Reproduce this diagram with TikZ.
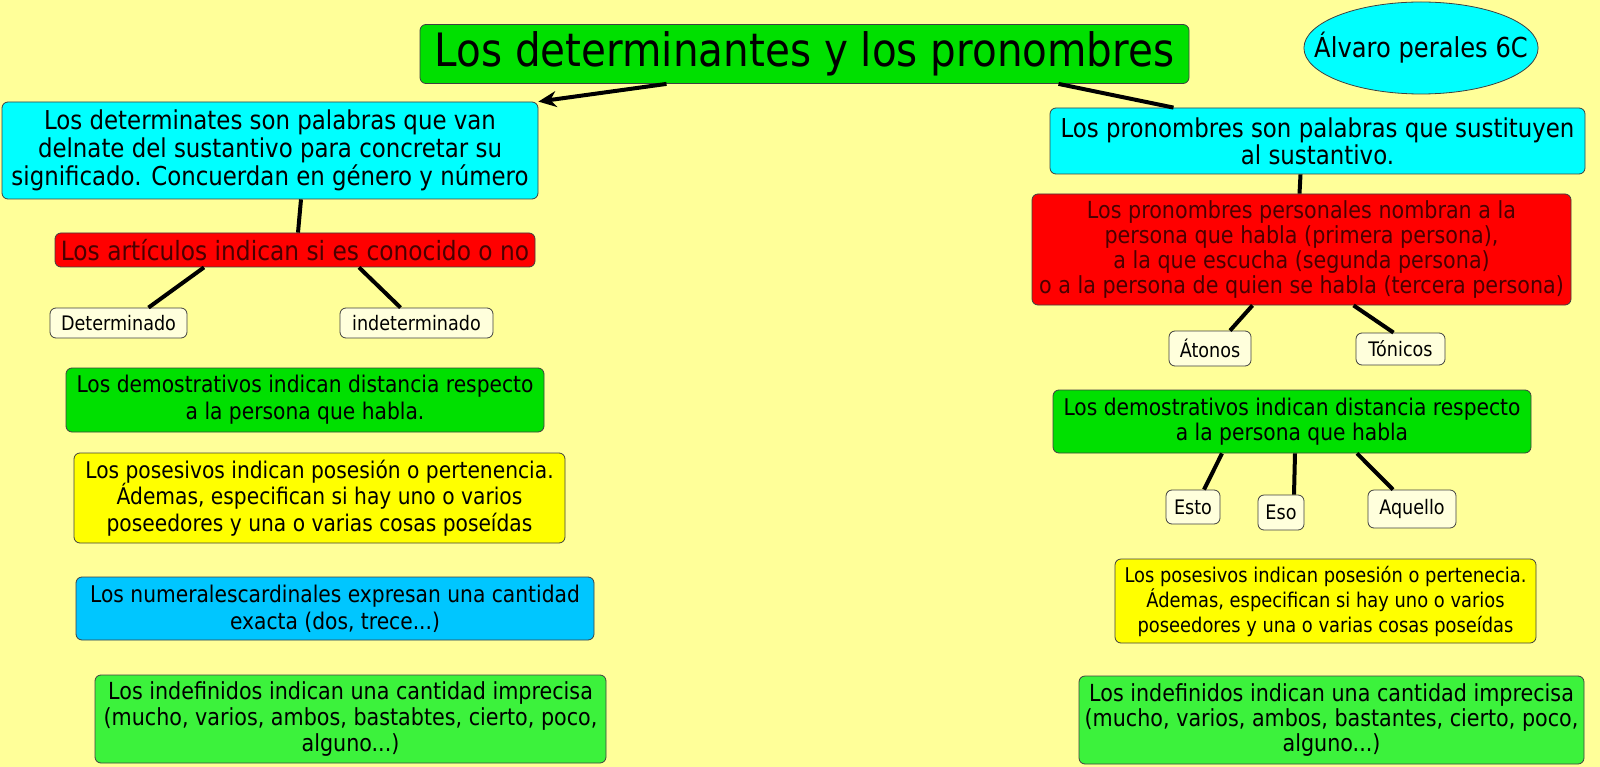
\documentclass[tikz,border=0pt]{standalone}
\usepackage{fontspec}
\setmainfont{DejaVu Sans}[FakeStretch=0.88]
\usetikzlibrary{arrows.meta,shapes.geometric}
\definecolor{fondo}{HTML}{FFFF99}
\definecolor{verde}{HTML}{00E000}
\definecolor{verdeclaro}{HTML}{3CF23C}
\definecolor{cian}{HTML}{00FFFF}
\definecolor{azul}{HTML}{00C6FF}
\definecolor{rojo}{HTML}{FF0000}
\definecolor{rojotexto}{HTML}{4A0000}
\definecolor{amarillo}{HTML}{FFFF00}
\definecolor{crema}{HTML}{FFFFDC}
\newcommand\tam[2]{\fontsize{#1}{#2}\selectfont}

\begin{document}
\begin{tikzpicture}[x=1pt,y=-1pt]
       \tikzstyle{caja}=[draw=black!75, line width=0.8pt, rounded corners=6pt, align=center, inner sep=0pt]
       \tikzstyle{hoja}=[caja, fill=crema, font=\tam{20}{24}]
       \tikzstyle{enlace}=[line width=4pt]
       \useasboundingbox (0,0) rectangle (1600,767);
       \fill[fondo] (0,0) rectangle (1600,767);
       \node[caja, fill=verde, minimum width=769pt, minimum height=59pt, font=\tam{46}{50}] (titulo) at (804.5,54) {Los determinantes y los pronombres};
       \node[ellipse, draw=black!75, line width=0.8pt, fill=cian, inner xsep=-24pt, inner ysep=0pt, minimum height=92pt, font=\tam{27.5}{30}] (autor) at (1421,48) {Álvaro perales 6C};
       \node[caja, fill=cian, minimum width=536pt, minimum height=97pt, font=\tam{26}{28}] (det) at (270,150.5) {Los determinates son palabras que van\\ delnate del sustantivo para concretar su\\ significado. Concuerdan en género y número};
       \node[caja, fill=rojo, text=rojotexto, minimum width=480pt, minimum height=34pt, font=\tam{26.5}{28}] (articulos) at (295,250) {Los artículos indican si es conocido o no};
       \node[hoja, minimum width=137pt, minimum height=30pt] (determinado) at (118.5,323) {Determinado};
       \node[hoja, minimum width=153pt, minimum height=30pt] (indeterminado) at (416.5,323) {indeterminado};
       \node[caja, fill=verde, minimum width=478pt, minimum height=64pt, font=\tam{23}{27}] (demizq) at (305,400) {Los demostrativos indican distancia respecto\\ a la persona que habla.};
       \node[caja, fill=amarillo, minimum width=491pt, minimum height=90pt, font=\tam{23}{26.5}] (posizq) at (319.5,498) {Los posesivos indican posesión o pertenencia.\\ Ádemas, especifican si hay uno o varios\\ poseedores y una o varias cosas poseídas};
       \node[caja, fill=azul, minimum width=518pt, minimum height=63pt, font=\tam{23}{27}] (numerales) at (335,608.5) {Los numeralescardinales expresan una cantidad\\ exacta (dos, trece...)};
       \node[caja, fill=verdeclaro, minimum width=511pt, minimum height=88pt, font=\tam{23.5}{26}] (indefizq) at (350.5,719) {Los indefinidos indican una cantidad imprecisa\\ (mucho, varios, ambos, bastabtes, cierto, poco,\\ alguno...)};
       \node[caja, fill=cian, minimum width=535pt, minimum height=66pt, font=\tam{26}{27}] (pron) at (1317.5,141) {Los pronombres son palabras que sustituyen\\ al sustantivo.};
       \node[caja, fill=rojo, text=rojotexto, minimum width=539pt, minimum height=111pt, font=\tam{23.5}{25}] (personales) at (1301.5,249.5) {Los pronombres personales nombran a la\\ persona que habla (primera persona),\\ a la que escucha (segunda persona)\\ o a la persona de quien se habla (tercera persona)};
       \node[hoja, minimum width=82pt, minimum height=35pt] (atonos) at (1210,348.5) {Átonos};
       \node[hoja, minimum width=89pt, minimum height=32pt] (tonicos) at (1400.5,349) {Tónicos};
       \node[caja, fill=verde, minimum width=478pt, minimum height=63pt, font=\tam{23}{25}] (demder) at (1292,421.5) {Los demostrativos indican distancia respecto\\ a la persona que habla};
       \node[hoja, minimum width=54pt, minimum height=34pt] (esto) at (1193,507) {Esto};
       \node[hoja, minimum width=46pt, minimum height=35pt] (eso) at (1281,512.5) {Eso};
       \node[hoja, minimum width=88pt, minimum height=38pt] (aquello) at (1412,509) {Aquello};
       \node[caja, fill=amarillo, minimum width=421pt, minimum height=84pt, font=\tam{20.3}{25}] (posder) at (1325.5,601) {Los posesivos indican posesión o pertenecia.\\ Ádemas, especifican si hay uno o varios\\ poseedores y una o varias cosas poseídas};
       \node[caja, fill=verdeclaro, minimum width=505pt, minimum height=88pt, font=\tam{23.5}{25}] (indefder) at (1331.5,720) {Los indefinidos indican una cantidad imprecisa\\ (mucho, varios, ambos, bastantes, cierto, poco,\\ alguno...)};
       \draw[enlace, -{Stealth[length=18pt,width=16pt]}] ([xshift=-138pt]titulo.south) -- (det.north east);
       \draw[enlace] ([xshift=254pt]titulo.south) -- ([xshift=-144pt]pron.north);
       \draw[enlace] ([xshift=31pt]det.south) -- ([xshift=3pt]articulos.north);
       \draw[enlace] ([xshift=-91pt]articulos.south) -- ([xshift=30pt]determinado.north);
       \draw[enlace] ([xshift=64pt]articulos.south) -- ([xshift=-16pt]indeterminado.north);
       \draw[enlace] ([xshift=-17pt]pron.south) -- ([xshift=-2pt]personales.north);
       \draw[enlace] ([xshift=-49pt]personales.south) -- ([xshift=20pt]atonos.north);
       \draw[enlace] ([xshift=52pt]personales.south) -- ([xshift=-7pt]tonicos.north);
       \draw[enlace] ([xshift=-70pt]demder.south) -- ([xshift=11pt]esto.north);
       \draw[enlace] ([xshift=3pt]demder.south) -- ([xshift=13pt]eso.north);
       \draw[enlace] ([xshift=65pt]demder.south) -- ([xshift=-19pt]aquello.north);
      \end{tikzpicture}
\end{document}
